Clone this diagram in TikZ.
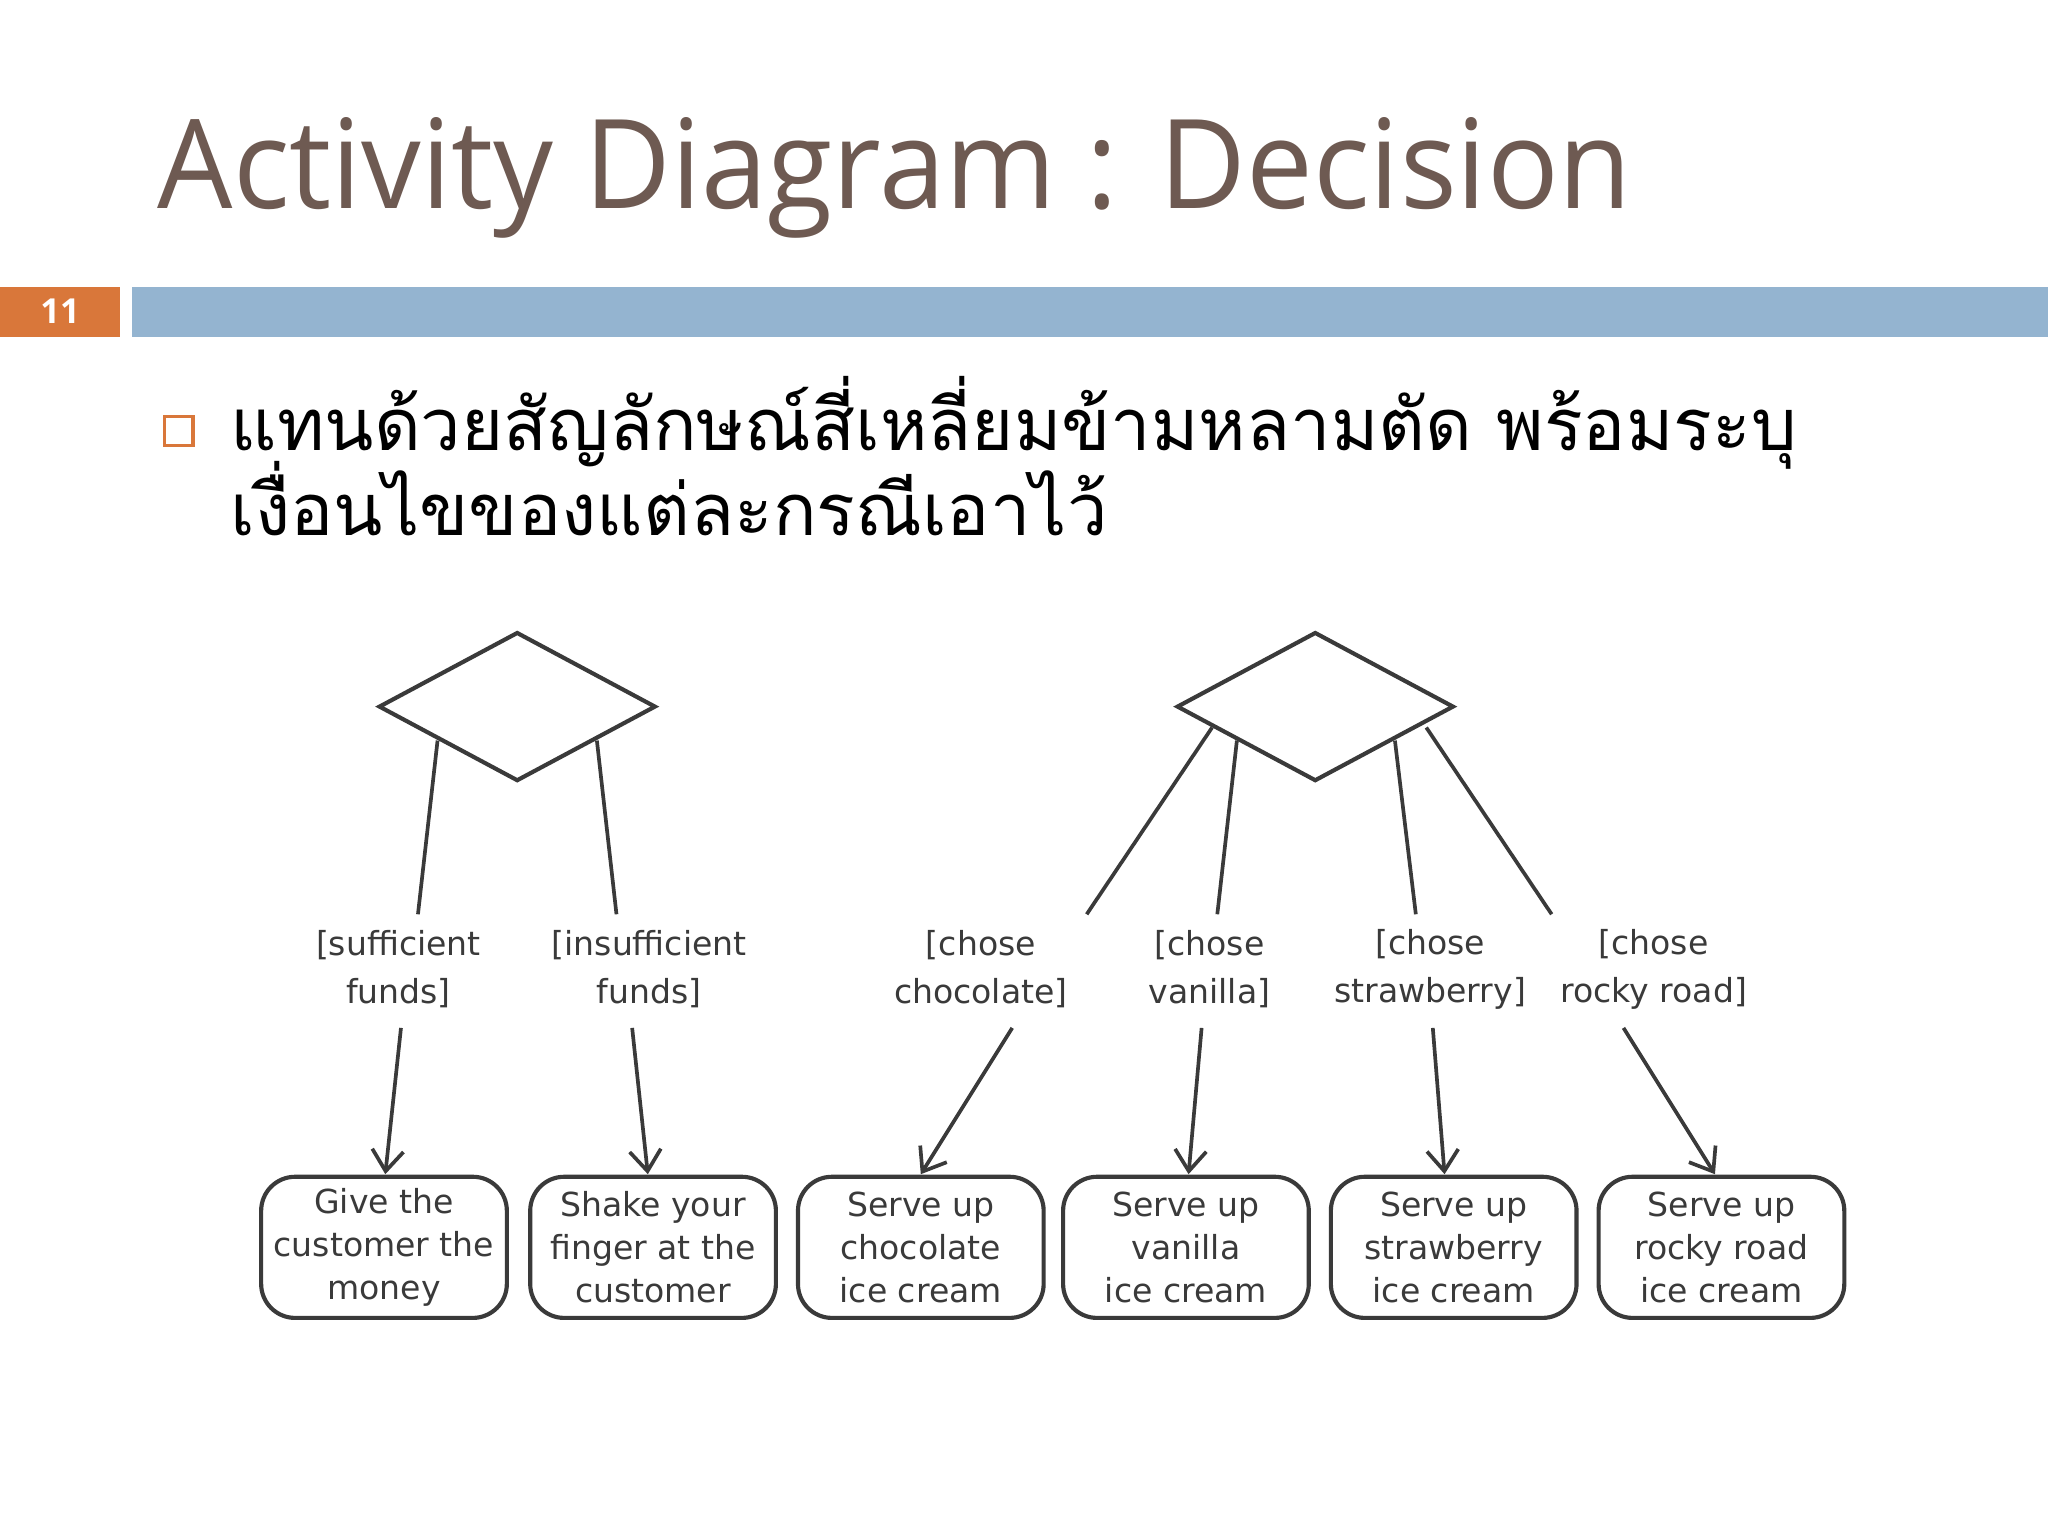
\documentclass[tikz,border=0pt]{standalone}
\usepackage{fontspec}
\setmainfont{Open Sans}
\newfontfamily\thaifont[Script=Thai]{Loma}
\newfontfamily\dfont{DejaVu Sans}
\usetikzlibrary{shapes.geometric,arrows.meta}
\definecolor{titlec}{HTML}{6E5A52}
\definecolor{barblue}{HTML}{94B4D0}
\definecolor{orng}{HTML}{D9773A}
\definecolor{ink}{HTML}{3A3A3A}
\tikzset{
 dia/.style={diamond,draw=ink,line width=0.9pt,minimum width=2.12cm,minimum height=1.14cm,inner sep=0pt},
 act/.style={draw=ink,line width=0.9pt,rounded corners=2.6mm,minimum width=1.88cm,minimum height=1.08cm,align=center,font=\dfont\fontsize{7.2}{9.4}\selectfont,text=ink,inner sep=0pt},
 lbl/.style={align=center,font=\dfont\fontsize{7.2}{10.4}\selectfont,text=ink},
 ln/.style={draw=ink,line width=0.8pt},
 arr/.style={ln,-{Straight Barb[length=1.6mm,width=2.4mm]}}
}
\begin{document}
\begin{tikzpicture}[x=0.01cm,y=-0.01cm]
\useasboundingbox (0,0) rectangle (1568,1176);
\fill[white] (0,0) rectangle (1568,1176);
\node[anchor=base west,text=titlec,font=\fontsize{27}{31}\selectfont,inner sep=0pt] (title) at (120,160) {\scalebox{0.96}[1]{Activity Diagram : Decision}};
\fill[orng] (0,220) rectangle (92,258);
\node[text=white,font=\bfseries\fontsize{7.5}{9}\selectfont] (num) at (46,238) {11};
\fill[barblue] (101,220) rectangle (1568,258);
\node[draw=orng,line width=0.8pt,minimum size=0.22cm,inner sep=0pt] (bul) at (137,330) {};
\node[anchor=base west,inner sep=0pt,font=\thaifont\fontsize{15.7}{19}\selectfont] (l1) at (176,345) {แทนด้วยสัญลักษณ์สี่เหลี่ยมข้ามหลามตัด พร้อมระบุ};
\node[anchor=base west,inner sep=0pt,font=\thaifont\fontsize{15.7}{19}\selectfont] (l2) at (176,410) {เงื่อนไขของแต่ละกรณีเอาไว้};
\node[dia] (d1) at (396,541) {};
\node[dia] (d2) at (1007,541) {};
\node[lbl] (s1) at (305,742) {[sufficient\\funds]};
\node[lbl] (s2) at (497,742) {[insufficient\\funds]};
\node[lbl] (c1) at (751,742) {[chose\\chocolate]};
\node[lbl] (c2) at (926,742) {[chose\\vanilla]};
\node[lbl] (c3) at (1095,742) {[chose\\strawberry]};
\node[lbl] (c4) at (1266,742) {[chose\\rocky road]};
\node[act] (b1) at (294,955) {Give the\\customer the\\money};
\node[act] (b2) at (500,955) {Shake your\\finger at the\\customer};
\node[act] (b3) at (705,955) {Serve up\\chocolate\\ice cream};
\node[act] (b4) at (908,955) {Serve up\\vanilla\\ice cream};
\node[act] (b5) at (1113,955) {Serve up\\strawberry\\ice cream};
\node[act] (b6) at (1318,955) {Serve up\\rocky road\\ice cream};
\coordinate (p1) at (335,567); \coordinate (q1) at (320,700);
\coordinate (p2) at (457,567); \coordinate (q2) at (472,700);
\coordinate (p3) at (928,557); \coordinate (q3) at (832,700);
\coordinate (p4) at (947,567); \coordinate (q4) at (932,700);
\coordinate (p5) at (1068,567); \coordinate (q5) at (1084,700);
\coordinate (p6) at (1092,557); \coordinate (q6) at (1188,700);
\foreach \i in {1,...,6} {\draw[ln] (p\i) -- (q\i);}
\coordinate (r1) at (307,787); \coordinate (t1) at (295,899);
\coordinate (r2) at (484,787); \coordinate (t2) at (496,899);
\coordinate (r3) at (775,787); \coordinate (t3) at (705,899);
\coordinate (r4) at (920,787); \coordinate (t4) at (910,899);
\coordinate (r5) at (1097,787); \coordinate (t5) at (1106,899);
\coordinate (r6) at (1243,787); \coordinate (t6) at (1313,899);
\foreach \i in {1,...,6} {\draw[arr] (r\i) -- (t\i);}
\end{tikzpicture}
\end{document}
